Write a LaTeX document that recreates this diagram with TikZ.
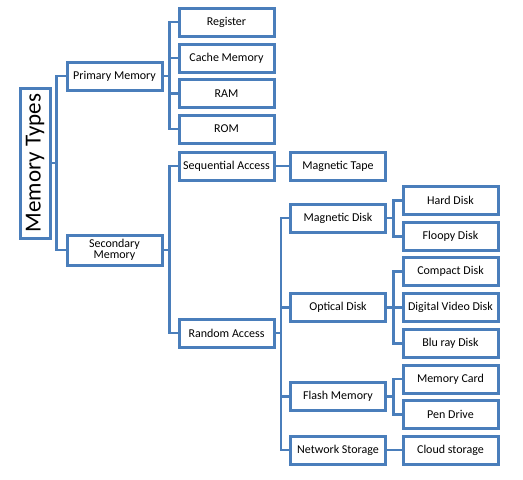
\documentclass[tikz,border=0pt]{standalone}
\usepackage{fontspec}
\setmainfont{Carlito}
\usetikzlibrary{calc,backgrounds}
\definecolor{bl}{HTML}{4A7EBB}
\tikzset{
  box/.style={draw=bl, line width=3pt, minimum width=95pt, minimum height=28pt, inner sep=1pt, font=\fontsize{12}{13}\selectfont, align=center, fill=white},
  conn/.style={draw=bl, line width=2.6pt}
}
\begin{document}
\begin{tikzpicture}[x=1pt,y=-1pt]
\useasboundingbox (0,0) rectangle (523,480);
\node[box, minimum width=150pt, minimum height=30pt, rotate=90, font=\fontsize{23}{25}\selectfont] (mt) at (35,163) {Memory Types};
\node[box] (pm) at (114.5,76) {Primary Memory};
\node[box, minimum height=30pt] (sm) at (114.5,250) {Secondary\\[-2pt]Memory};
\node[box] (reg) at (226.5,22) {Register};
\node[box] (cm) at (226.5,58) {Cache Memory};
\node[box] (ram) at (226.5,93.5) {RAM};
\node[box] (rom) at (226.5,129) {ROM};
\node[box] (sa) at (226.5,166) {Sequential Access};
\node[box] (ra) at (226.5,333) {Random Access};
\node[box] (tape) at (338,166) {Magnetic Tape};
\node[box] (md) at (338,218) {Magnetic Disk};
\node[box] (od) at (338,307.5) {Optical Disk};
\node[box] (fm) at (338,396.5) {Flash Memory};
\node[box] (ns) at (338,450) {Network Storage};
\node[box] (hd) at (450.5,200.5) {Hard Disk};
\node[box] (fd) at (450.5,236.5) {Floopy Disk};
\node[box] (cd) at (450.5,271.5) {Compact Disk};
\node[box] (dvd) at (450.5,307.5) {Digital Video Disk};
\node[box] (br) at (450.5,343.5) {Blu ray Disk};
\node[box] (mc) at (450.5,379) {Memory Card};
\node[box] (pd) at (450.5,414.5) {Pen Drive};
\node[box] (cs) at (450.5,450) {Cloud storage};
\begin{scope}[on background layer]
% trunk
\draw[conn] (pm.west) -- ++(-9,0) coordinate (t1) |- (sm.west);
\draw[conn] (mt.south) -- (mt.south -| t1);
% primary
\draw[conn] (reg.west) -- ++(-8,0) coordinate (p1) |- (rom.west);
\draw[conn] (cm.west) -- (cm.west -| p1);
\draw[conn] (ram.west) -- (ram.west -| p1);
\draw[conn] (pm.east) -- (pm.east -| p1);
% secondary
\draw[conn] (sa.west) -- ++(-8,0) coordinate (s1) |- (ra.west);
\draw[conn] (sm.east) -- (sm.east -| s1);
\draw[conn] (sa.east) -- (tape.west);
% random
\draw[conn] (md.west) -- ++(-8,0) coordinate (r1) |- (ns.west);
\draw[conn] (od.west) -- (od.west -| r1);
\draw[conn] (fm.west) -- (fm.west -| r1);
\draw[conn] (ra.east) -- (ra.east -| r1);
% magnetic disk
\draw[conn] (hd.west) -- ++(-8,0) coordinate (m1) |- (fd.west);
\draw[conn] (md.east) -- (md.east -| m1);
% optical
\draw[conn] (cd.west) -- ++(-8,0) coordinate (o1) |- (br.west);
\draw[conn] (od.east) -- (dvd.west);
% flash
\draw[conn] (mc.west) -- ++(-8,0) coordinate (f1) |- (pd.west);
\draw[conn] (fm.east) -- (fm.east -| f1);
% network
\draw[conn] (ns.east) -- (cs.west);
\end{scope}
\end{tikzpicture}
\end{document}
